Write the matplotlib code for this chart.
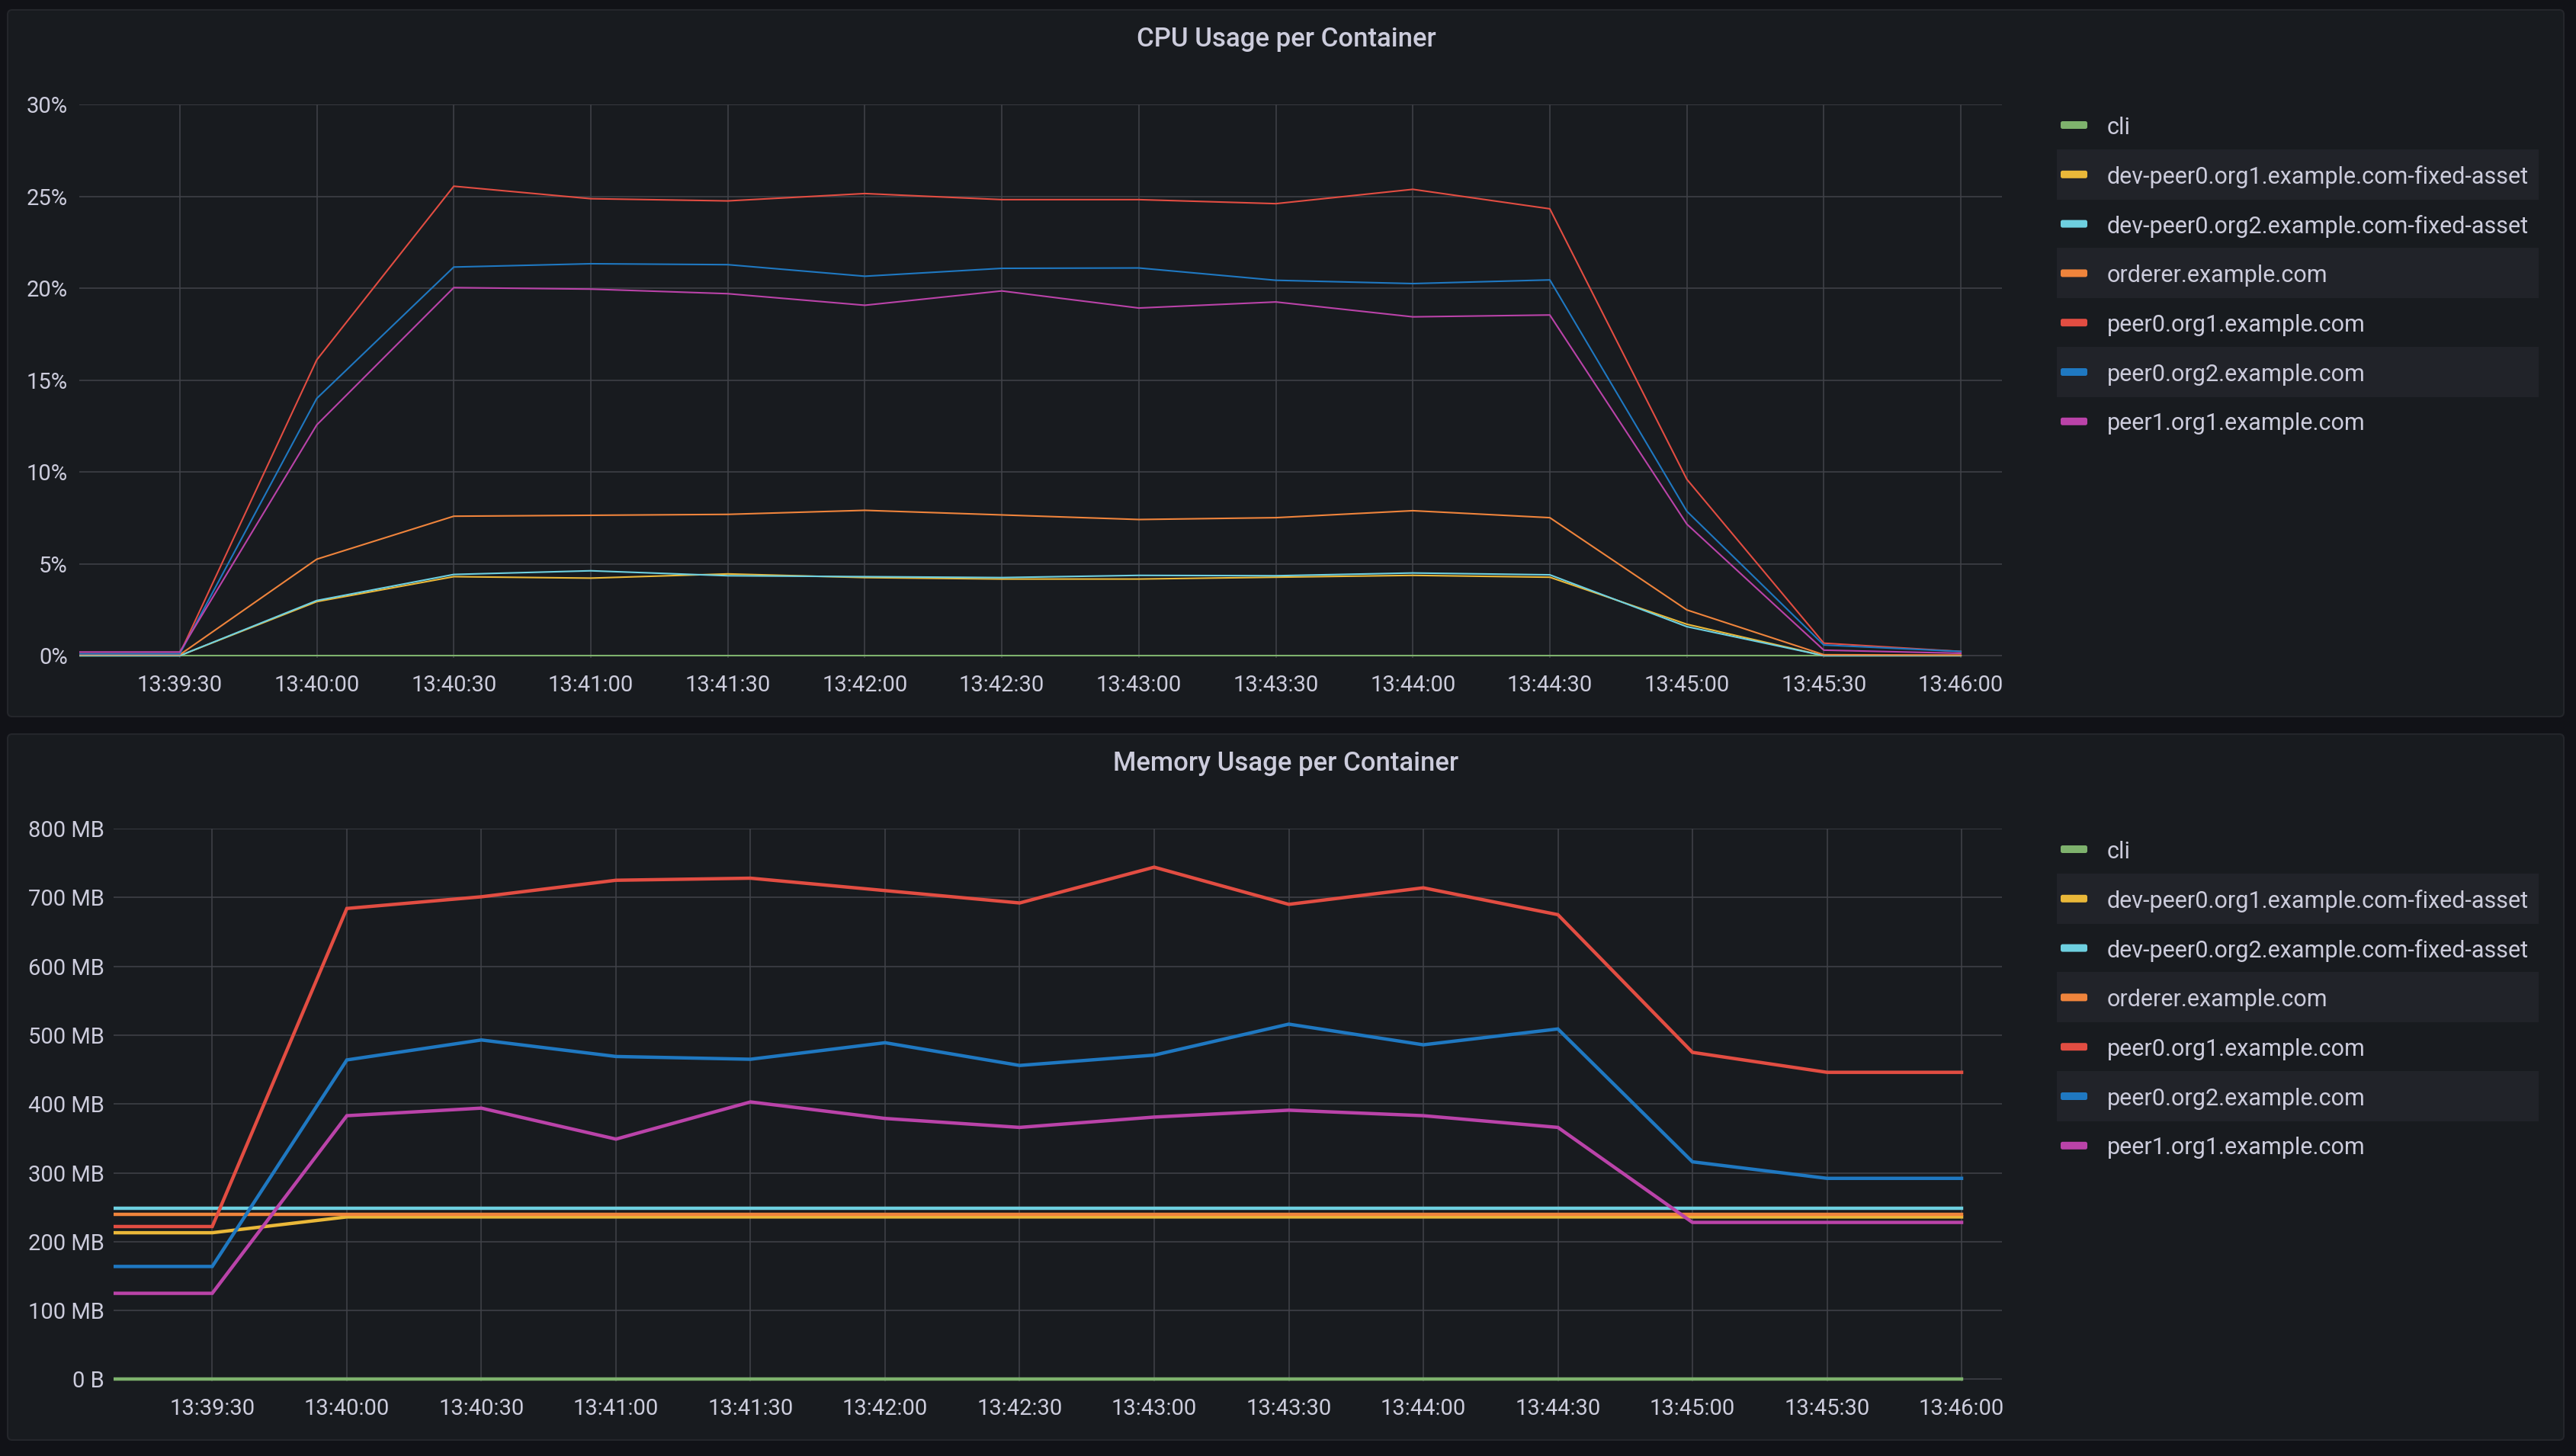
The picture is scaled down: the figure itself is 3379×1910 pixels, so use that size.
import matplotlib
matplotlib.use('Agg')
import matplotlib.pyplot as plt
import matplotlib.dates as mdates
import matplotlib.patheffects as pe
import pandas as pd
from matplotlib import font_manager
from matplotlib.patches import FancyBboxPatch
from matplotlib.ticker import FuncFormatter, MultipleLocator

plt.rcParams['font.family'] = ['Roboto', 'DejaVu Sans']

# ---- data ----
times = ['13:39:00', '13:39:30', '13:40:00', '13:40:30', '13:41:00', '13:41:30',
         '13:42:00', '13:42:30', '13:43:00', '13:43:30', '13:44:00', '13:44:30',
         '13:45:00', '13:45:30', '13:46:00']

series_names = ['cli',
                'dev-peer0.org1.example.com-fixed-asset',
                'dev-peer0.org2.example.com-fixed-asset',
                'orderer.example.com',
                'peer0.org1.example.com',
                'peer0.org2.example.com',
                'peer1.org1.example.com']
series_colors = ['#7EB26D', '#EAB839', '#6ED0E0', '#EF843C', '#E24D42', '#1F78C1', '#BA43A9']

# CPU usage, percent
cpu_cli = [0, 0, 0, 0, 0, 0, 0, 0, 0, 0, 0, 0, 0, 0, 0]
cpu_dev_org1 = [0, 0, 2.94, 4.30, 4.22, 4.45, 4.25, 4.17, 4.17, 4.27, 4.37, 4.27, 1.71, 0, 0]
cpu_dev_org2 = [0, 0, 3.00, 4.42, 4.62, 4.35, 4.30, 4.25, 4.37, 4.35, 4.50, 4.40, 1.58, 0, 0]
cpu_orderer = [0.05, 0.05, 5.25, 7.59, 7.64, 7.69, 7.91, 7.66, 7.41, 7.51, 7.89, 7.51, 2.49, 0.05, 0.03]
cpu_peer0_org1 = [0.1, 0.1, 16.1, 25.55, 24.87, 24.75, 25.15, 24.82, 24.82, 24.60, 25.38, 24.32, 9.6, 0.68, 0.23]
cpu_peer0_org2 = [0.1, 0.1, 14.0, 21.15, 21.33, 21.28, 20.65, 21.08, 21.10, 20.43, 20.25, 20.45, 7.86, 0.58, 0.23]
cpu_peer1_org1 = [0.2, 0.2, 12.56, 20.03, 19.95, 19.70, 19.07, 19.85, 18.92, 19.25, 18.44, 18.54, 7.16, 0.30, 0.13]

# memory usage, MB
mem_cli = [0, 0, 0, 0, 0, 0, 0, 0, 0, 0, 0, 0, 0, 0, 0]
mem_dev_org1 = [213, 213, 236, 236, 236, 236, 236, 236, 236, 236, 236, 236, 236, 236, 236]
mem_dev_org2 = [249, 249, 249, 249, 249, 249, 249, 249, 249, 249, 249, 249, 249, 249, 249]
mem_orderer = [240, 240, 240, 240, 240, 240, 240, 240, 240, 240, 240, 240, 240, 240, 240]
mem_peer0_org1 = [222, 222, 684, 701, 725, 728, 710, 692, 744, 690, 714, 675, 475, 446, 446]
mem_peer0_org2 = [164, 164, 464, 493, 469, 465, 489, 456, 471, 516, 486, 509, 316, 292, 292]
mem_peer1_org1 = [125, 125, 383, 394, 349, 403, 379, 366, 381, 391, 383, 366, 228, 228, 228]

cpu_series = [cpu_cli, cpu_dev_org1, cpu_dev_org2, cpu_orderer,
              cpu_peer0_org1, cpu_peer0_org2, cpu_peer1_org1]
mem_series = [mem_cli, mem_dev_org1, mem_dev_org2, mem_orderer,
              mem_peer0_org1, mem_peer0_org2, mem_peer1_org1]

# ---- look ----
W, H = 3380, 1910
BG = '#111217'
PANEL = '#181b1f'
PANEL_EDGE = '#24262b'
ROW_BG = '#212329'
GRID = '#414349'
TEXT = '#ccccdc'

# Grafana titles use Roboto Medium; when only one weight is installed, thicken with a stroke.
roboto_weights = {f.weight for f in font_manager.fontManager.ttflist if f.name == 'Roboto'}
if 500 in roboto_weights:
    TITLE_WEIGHT, TITLE_FX = 500, []
else:
    TITLE_WEIGHT, TITLE_FX = 400, [pe.withStroke(linewidth=1.1, foreground=TEXT)]

x = pd.to_datetime(['2021-01-01 ' + t for t in times])
x_start = pd.Timestamp('2021-01-01 13:39:08')
x_end = pd.Timestamp('2021-01-01 13:46:09')


def fx(px):
    return px / W


def fy(py):
    return 1 - py / H


def add_panel(fig, top, bottom):
    box = FancyBboxPatch((10, H - bottom), 3353, bottom - top,
                         boxstyle='round,pad=0,rounding_size=6',
                         transform=None, facecolor=PANEL, edgecolor=PANEL_EDGE,
                         linewidth=1.5, zorder=-3)
    fig.patches.append(box)


def add_legend(fig, first_row):
    row_h = 64.8
    for i, (name, color) in enumerate(zip(series_names, series_colors)):
        yc = first_row + i * row_h
        if i % 2 == 1:
            band = FancyBboxPatch((2698, H - yc - 33), 632, 66,
                                  boxstyle='square,pad=0', transform=None,
                                  facecolor=ROW_BG, edgecolor='none', zorder=-2)
            fig.patches.append(band)
        sw = FancyBboxPatch((2703, H - yc - 5), 35, 10,
                            boxstyle='round,pad=0,rounding_size=2.5', transform=None,
                            facecolor=color, edgecolor='none', zorder=-1)
        fig.patches.append(sw)
        fig.text(fx(2764), fy(yc), name, color=TEXT, fontsize=22,
                 ha='left', va='center_baseline', zorder=3)


def style_axes(ax, ymin, ymax, ystep, fmt, lw_pad):
    ax.set_facecolor('none')
    ax.set_zorder(2)
    for s in ax.spines.values():
        s.set_visible(False)
    ax.set_xlim(x_start, x_end)
    ax.set_ylim(ymin, ymax)
    ax.yaxis.set_major_locator(MultipleLocator(ystep))
    ax.yaxis.set_major_formatter(FuncFormatter(fmt))
    ax.xaxis.set_major_locator(mdates.SecondLocator(bysecond=[0, 30]))
    ax.xaxis.set_major_formatter(mdates.DateFormatter('%H:%M:%S'))
    ax.tick_params(axis='both', length=0, labelsize=21, colors=TEXT)
    ax.tick_params(axis='x', pad=16)
    ax.tick_params(axis='y', pad=lw_pad)
    ax.grid(True, color=GRID, linewidth=1.1)
    ax.set_axisbelow(True)


fig = plt.figure(figsize=(W / 100, H / 100), dpi=100, facecolor=BG)

add_panel(fig, 13, 940)
add_panel(fig, 963, 1889)

# CPU panel (a sliver below zero keeps the flat 0 line fully visible)
ax1 = fig.add_axes([fx(104), fy(863), fx(2626) - fx(104), fy(137) - fy(863)])
style_axes(ax1, -0.12, 30, 5, lambda v, p: '%d%%' % round(v), 11)
for vals, color in zip(cpu_series, series_colors):
    ax1.plot(x, vals, color=color, linewidth=1.5, zorder=3)
fig.text(fx(1687), fy(51), 'CPU Usage per Container', color=TEXT, fontsize=25,
         fontweight=TITLE_WEIGHT, ha='center', va='center', path_effects=TITLE_FX)
add_legend(fig, 164)

# memory panel
ax2 = fig.add_axes([fx(149), fy(1812), fx(2626) - fx(149), fy(1087) - fy(1812)])
style_axes(ax2, -2.8, 800, 100, lambda v, p: '0 B' if round(v) == 0 else '%d MB' % round(v), 9)
for vals, color in zip(mem_series, series_colors):
    ax2.plot(x, vals, color=color, linewidth=3.2, zorder=3, solid_joinstyle='miter')
fig.text(fx(1687), fy(1001), 'Memory Usage per Container', color=TEXT, fontsize=25,
         fontweight=TITLE_WEIGHT, ha='center', va='center', path_effects=TITLE_FX)
add_legend(fig, 1114)

fig.savefig('out.png', dpi=100, facecolor=BG)
